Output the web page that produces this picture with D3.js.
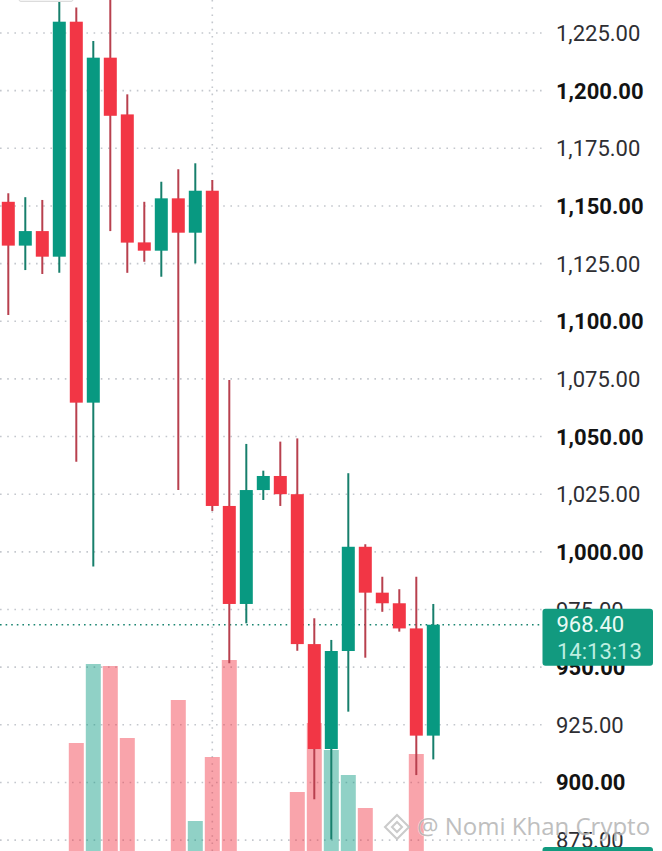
<!DOCTYPE html>
<html>
<head>
<meta charset="utf-8">
<script src="https://cdn.jsdelivr.net/npm/d3@7/dist/d3.min.js"></script>
<style>
  html, body { margin: 0; padding: 0; background: #ffffff; }
  svg { display: block; }
</style>
</head>
<body>
<svg id="chart" width="662" height="851"></svg>
<script>
// ---- data ----
const candleIds = d3.range(1, 27);
const openVals  = [1151.8,1132.8,1139.1,1128.0,1229.9,1064.7,1214.3,1189.7,1134.2,1130.6,1153.3,1138.4,1156.6,1019.9,977.4,1026.8,1032.9,1025.0,960.0,914.5,957.0,1002.2,982.3,977.7,966.8,920.3];
const highVals  = [1155.5,1153.8,1152.6,1239.0,1236.1,1221.5,1242.0,1198.4,1151.8,1160.5,1165.9,1168.5,1161.3,1074.5,1046.8,1035.2,1047.8,1049.2,971.2,961.8,1034.1,1003.3,989.2,983.8,989.2,977.4];
const lowVals   = [1102.7,1122.2,1120.5,1121.0,1039.1,993.6,1139.1,1121.0,1125.8,1119.3,1026.8,1125.1,1017.7,951.7,969.0,1022.5,1019.9,957.1,892.7,875.3,930.7,954.1,974.0,965.4,903.2,910.0];
const closeVals = [1132.8,1139.1,1128.0,1229.9,1064.7,1214.3,1189.1,1134.1,1130.6,1153.3,1138.4,1156.6,1019.9,977.4,1026.8,1032.9,1025.0,960.0,914.5,957.0,1002.2,982.3,977.7,966.8,920.3,968.4];
const volumeVals = [30,20,25,45,157,236,234,162,35,40,200,79,143,240,40,15,20,108,177,150,125,92,25,20,146,30];
const priceTicks = [875,900,925,950,975,1000,1025,1050,1075,1100,1125,1150,1175,1200,1225];
const lastPrice = 968.40;
const lastPriceText = "968.40";
const countdownText = "14:13:13";
const watermarkText = "@ Nomi Khan Crypto";

// ---- style ----
const UP = "#089981", DOWN = "#F23645";
const UP_WICK = "#177f6c", DOWN_WICK = "#b8404e";
const UP_VOL = "rgba(8,153,129,0.45)", DOWN_VOL = "rgba(242,54,69,0.45)";

const svg = d3.select("#chart");
svg.append("rect").attr("width", 662).attr("height", 851).attr("fill", "#fff");

const candles = candleIds.map((id, i) => ({
  i, id, o: openVals[i], h: highVals[i], l: lowVals[i], c: closeVals[i], v: volumeVals[i]
}));

const x = d3.scaleLinear().domain([0, candles.length - 1]).range([8.3, 433.3]);
const y = d3.scaleLinear().domain([875, 1225]).range([840.1, 33]);
const yVol = d3.scaleLinear().domain([0, 300]).range([900, 600]);

const plotRight = 545;

// horizontal grid
svg.append("g").selectAll("line").data(priceTicks).join("line")
  .attr("x1", 0).attr("x2", plotRight)
  .attr("y1", d => y(d)).attr("y2", d => y(d))
  .attr("stroke", "#c4c7cd").attr("stroke-width", 1.6)
  .attr("stroke-dasharray", "1.6,5.6");

// vertical grid
svg.append("line")
  .attr("x1", x(12)).attr("x2", x(12)).attr("y1", 0).attr("y2", 851)
  .attr("stroke", "#c4c7cd").attr("stroke-width", 1.6)
  .attr("stroke-dasharray", "1.6,5.6");

// volume bars
const volW = 15;
svg.append("g").selectAll("rect").data(candles).join("rect")
  .attr("x", d => x(d.i) - volW / 2)
  .attr("width", volW)
  .attr("y", d => yVol(d.v))
  .attr("height", d => yVol(0) - yVol(d.v))
  .attr("fill", d => d.c >= d.o ? UP_VOL : DOWN_VOL);

// last price line
svg.append("line")
  .attr("x1", 0).attr("x2", 543)
  .attr("y1", y(lastPrice)).attr("y2", y(lastPrice))
  .attr("stroke", "#1b8571").attr("stroke-width", 1.6)
  .attr("stroke-dasharray", "1.6,4");

// wicks
svg.append("g").selectAll("line").data(candles).join("line")
  .attr("x1", d => x(d.i)).attr("x2", d => x(d.i))
  .attr("y1", d => y(d.h)).attr("y2", d => y(d.l))
  .attr("stroke", d => d.c >= d.o ? UP_WICK : DOWN_WICK)
  .attr("stroke-width", 2);

// bodies
const bodyW = 13;
svg.append("g").selectAll("rect").data(candles).join("rect")
  .attr("x", d => x(d.i) - bodyW / 2)
  .attr("width", bodyW)
  .attr("y", d => y(Math.max(d.o, d.c)))
  .attr("height", d => Math.max(1, Math.abs(y(d.o) - y(d.c))))
  .attr("fill", d => d.c >= d.o ? UP : DOWN);

// top-left cut-off tooltip box
svg.append("rect")
  .attr("x", 19).attr("y", -20).attr("width", 54).attr("height", 21.5)
  .attr("rx", 2).attr("fill", "#f4f4f4").attr("stroke", "#dcdcdc");

// price axis labels
const fmt = d3.format(",.2f");
const axis = d3.axisRight(y).tickValues(priceTicks).tickFormat(fmt).tickSize(0).tickPadding(0);
const axisG = svg.append("g").attr("transform", "translate(556,0.5)").call(axis);
axisG.select(".domain").remove();
axisG.selectAll("text")
  .attr("font-family", "Roboto, 'Noto Sans', sans-serif")
  .attr("font-size", 22)
  .attr("fill", d => d % 50 === 0 ? "#131313" : "#2e2e33")
  .attr("font-weight", d => d % 50 === 0 ? 700 : 400);

// last price label
const yl = y(lastPrice);
const lbl = svg.append("g");
lbl.append("rect")
  .attr("x", 542.5).attr("y", yl - 16).attr("width", 110.5).attr("height", 57)
  .attr("rx", 3).attr("fill", "#129a7f");
lbl.append("text")
  .attr("x", 556.5).attr("y", yl + 7.5)
  .attr("font-family", "Roboto, sans-serif").attr("font-size", 22)
  .attr("fill", "#eafaf5").text(lastPriceText);
lbl.append("text")
  .attr("x", 557).attr("y", yl + 34.5)
  .attr("font-family", "Roboto, sans-serif").attr("font-size", 22)
  .attr("fill", "#bdeee1").text(countdownText);

// bottom-right cut-off label
svg.append("rect")
  .attr("x", 542.5).attr("y", 847).attr("width", 110.5).attr("height", 30)
  .attr("rx", 3).attr("fill", "#129a7f");

// watermark
const wm = svg.append("g").attr("opacity", 0.85);
const lx = 397, ly = 827, s = 12;
wm.append("path")
  .attr("d", `M${lx},${ly - s} L${lx + s},${ly} L${lx},${ly + s} L${lx - s},${ly} Z`)
  .attr("fill", "none").attr("stroke", "#c2c2c2").attr("stroke-width", 2);
wm.append("path")
  .attr("d", `M${lx},${ly - 5} L${lx + 5},${ly} L${lx},${ly + 5} L${lx - 5},${ly} Z`)
  .attr("fill", "none").attr("stroke", "#c2c2c2").attr("stroke-width", 2);
wm.append("text")
  .attr("x", 417).attr("y", 835)
  .attr("font-family", "'Open Sans', 'Noto Sans', sans-serif")
  .attr("font-size", 24)
  .attr("fill", "#b4b4b4")
  .attr("stroke", "#ffffff").attr("stroke-width", 0.6).attr("paint-order", "stroke")
  .text(watermarkText);
</script>
</body>
</html>
